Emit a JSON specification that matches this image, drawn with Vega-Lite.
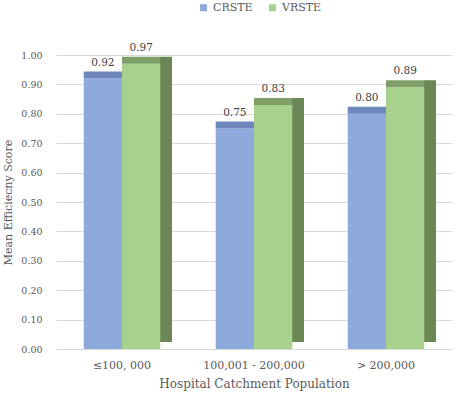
{
  "$schema": "https://vega.github.io/schema/vega-lite/v6.json",
  "autosize": "none",
  "width": 396,
  "height": 294,
  "padding": {"left": 56, "top": 55, "right": 22, "bottom": 44},
  "background": "white",
  "config": {
    "font": "DejaVu Serif",
    "view": {"stroke": null},
    "axis": {"labelFont": "DejaVu Serif", "titleFont": "DejaVu Serif", "labelColor": "#595959", "titleColor": "#595959", "titleFontWeight": "normal"},
    "legend": {"labelFont": "DejaVu Serif", "labelColor": "#595959"}
  },
  "data": {
    "values": [
      {"pop": "≤100, 000", "series": "CRSTE", "score": 0.92},
      {"pop": "≤100, 000", "series": "VRSTE", "score": 0.97},
      {"pop": "100,001 - 200,000", "series": "CRSTE", "score": 0.75},
      {"pop": "100,001 - 200,000", "series": "VRSTE", "score": 0.83},
      {"pop": "> 200,000", "series": "CRSTE", "score": 0.80},
      {"pop": "> 200,000", "series": "VRSTE", "score": 0.89}
    ]
  },
  "resolve": {"scale": {"color": "independent"}},
  "encoding": {
    "x": {
      "field": "pop", "type": "nominal", "sort": null,
      "scale": {"paddingInner": 0.42, "paddingOuter": 0.21},
      "axis": {"title": "Hospital Catchment Population", "labelAngle": 0, "domain": false, "ticks": false, "labelFontSize": 11, "titleFontSize": 12, "labelPadding": 10, "titlePadding": 8}
    },
    "y": {
      "field": "score", "type": "quantitative",
      "scale": {"domain": [0, 1]},
      "axis": {"title": "Mean Efficiecny Score", "tickCount": 10, "format": ".2f", "domain": false, "ticks": false, "labelFontSize": 9.5, "titleFontSize": 11, "labelPadding": 14, "gridColor": "#D9D9D9", "titlePadding": 7}
    }
  },
  "layer": [
    {
      "transform": [{"filter": "datum.series === 'VRSTE'"}],
      "mark": {"type": "bar", "width": 12, "xOffset": 44, "yOffset": -7, "color": "#6A8755"}
    },
    {
      "mark": {"type": "bar"},
      "encoding": {
        "xOffset": {"field": "series", "type": "nominal", "sort": ["CRSTE", "VRSTE"], "scale": {"paddingInner": 0, "paddingOuter": 0}},
        "color": {
          "field": "series", "type": "nominal",
          "scale": {"domain": ["CRSTE", "VRSTE"], "range": ["#8EA9DB", "#A9D18E"]},
          "legend": {"orient": "none", "direction": "horizontal", "legendX": 142, "legendY": -53, "title": null, "symbolType": "square", "symbolSize": 50, "labelFontSize": 11, "columnPadding": 14, "symbolStrokeWidth": 0}
        }
      }
    },
    {
      "mark": {"type": "tick", "thickness": 7, "yOffset": -3.5, "opacity": 1},
      "encoding": {
        "xOffset": {"field": "series", "type": "nominal", "sort": ["CRSTE", "VRSTE"], "scale": {"paddingInner": 0, "paddingOuter": 0}},
        "color": {
          "field": "series", "type": "nominal",
          "scale": {"domain": ["CRSTE", "VRSTE"], "range": ["#6E88BD", "#7E9F67"]},
          "legend": null
        }
      }
    },
    {
      "mark": {"type": "text", "dy": -16, "fontSize": 10.5, "color": "#404040"},
      "encoding": {
        "xOffset": {"field": "series", "type": "nominal", "sort": ["CRSTE", "VRSTE"], "scale": {"paddingInner": 0, "paddingOuter": 0}},
        "text": {"field": "score", "type": "quantitative", "format": ".2f"}
      }
    }
  ]
}
